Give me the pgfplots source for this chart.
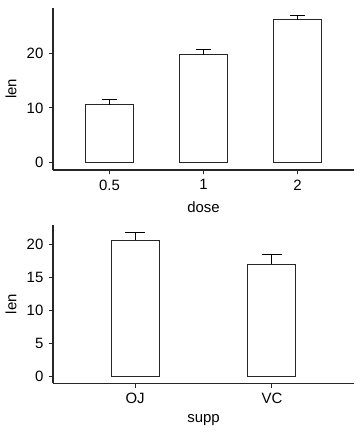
\documentclass[border=0pt]{standalone}
\usepackage{fontspec}
\setmainfont{Liberation Sans}
\usepackage{pgfplots}
\pgfplotsset{compat=1.18}
\begin{document}
\fontsize{15}{18}\selectfont
\begin{tikzpicture}[x=1bp,y=1bp, font=\fontsize{15}{18}\selectfont]
\useasboundingbox (0,0) rectangle (363,433);
\pgfplotsset{mystyle/.style={
  scale only axis, width=301bp,
  axis x line*=bottom, axis y line*=left,
  axis line style={line width=1.1pt, -, black!85},
  tick align=outside, major tick length=4.5bp,
  tick style={line width=1.1pt, black!85},
  ybar, bar shift=0pt, enlargelimits=false,
  /pgf/number format/assume math mode=true,
  every tick label/.append style={font=\fontsize{15}{18}\selectfont, text=black},
  every axis label/.append style={font=\fontsize{15}{18}\selectfont, text=black},
  xtick=data,
  xlabel style={yshift=-1bp},
}}
\begin{axis}[mystyle, at={(53bp,263bp)}, anchor=south west, height=162bp,
  xmin=0.4, xmax=3.6, ymin=-1.345, ymax=28.25,
  bar width=47.3bp,
  xticklabels={0.5,1,2}, ytick={0,10,20},
  xlabel={dose}, ylabel={len}]
\addplot[fill=white, draw=black!85, line width=1.1pt,
  error bars/.cd, y dir=plus, y explicit, error mark=|,
  error bar style={line width=1.1pt, black},
  error mark options={mark size=7.5bp, line width=1.1pt, black}]
  coordinates {(1,10.605) +- (0,1.006) (2,19.735) +- (0,0.987) (3,26.100) +- (0,0.844)};
\end{axis}
\begin{axis}[mystyle, at={(53bp,49.7bp)}, anchor=south west, height=158.3bp,
  xmin=0.4, xmax=2.6, ymin=-1.094, ymax=22.96,
  bar width=48bp,
  xticklabels={OJ,VC}, ytick={0,5,10,15,20},
  xlabel={supp}, ylabel={len}]
\addplot[fill=white, draw=black!85, line width=1.1pt,
  error bars/.cd, y dir=plus, y explicit, error mark=|,
  error bar style={line width=1.1pt, black},
  error mark options={mark size=10bp, line width=1.1pt, black}]
  coordinates {(1,20.663) +- (0,1.206) (2,16.963) +- (0,1.509)};
\end{axis}
\end{tikzpicture}
\end{document}
